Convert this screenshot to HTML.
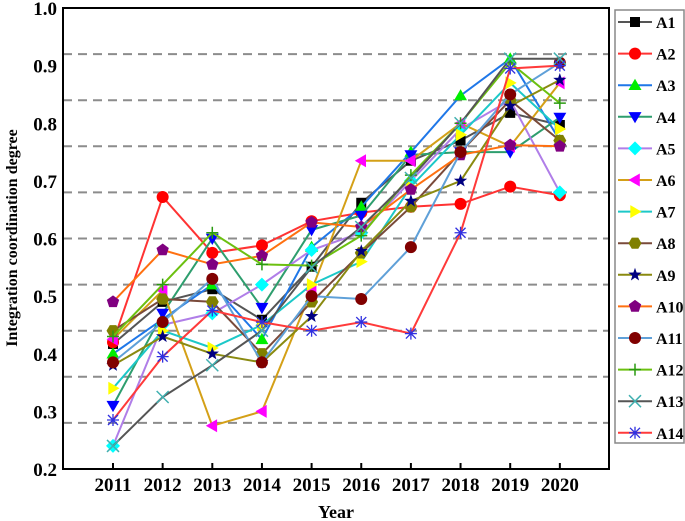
<!DOCTYPE html>
<html><head><meta charset="utf-8"><style>
body{margin:0;background:#fff;}
svg{display:block;font-family:"Liberation Serif",serif;font-weight:bold;}
</style></head><body>
<svg id="chart" width="685" height="521" viewBox="0 0 685 521" xmlns="http://www.w3.org/2000/svg"></svg>
<script>
const years = ["2011","2012","2013","2014","2015","2016","2017","2018","2019","2020"];
const yTicks = [0.2,0.3,0.4,0.5,0.6,0.7,0.8,0.9,1.0];
const gridVals = [0.28,0.36,0.44,0.52,0.60,0.68,0.76,0.84,0.92];
const seriesNames = ["A1","A2","A3","A4","A5","A6","A7","A8","A9","A10","A11","A12","A13","A14"];
const a1 = [0.417,0.49,0.512,0.459,0.551,0.662,0.735,0.77,0.818,0.797];
const a2 = [0.42,0.672,0.575,0.588,0.63,0.645,0.655,0.66,0.69,0.675];
const a3 = [0.40,0.46,0.52,0.425,0.585,0.655,0.75,0.848,0.912,0.77];
const a4 = [0.31,0.47,0.60,0.48,0.615,0.64,0.745,0.75,0.75,0.81];
const a5 = [0.24,0.45,0.47,0.52,0.58,0.61,0.70,0.79,0.84,0.68];
const a6 = [0.425,0.51,0.275,0.30,0.51,0.735,0.735,0.80,0.76,0.87];
const a7 = [0.34,0.44,0.41,0.45,0.52,0.56,0.69,0.78,0.87,0.79];
const a8 = [0.44,0.495,0.49,0.40,0.49,0.575,0.655,0.75,0.84,0.77];
const a9 = [0.38,0.43,0.40,0.385,0.465,0.578,0.665,0.70,0.83,0.875];
const a10 = [0.49,0.58,0.555,0.57,0.628,0.62,0.685,0.745,0.762,0.76];
const a11 = [0.385,0.455,0.53,0.385,0.50,0.495,0.585,0.75,0.85,0.905];
const a12 = [0.43,0.52,0.61,0.555,0.553,0.605,0.71,0.80,0.905,0.835];
const a13 = [0.24,0.325,0.38,0.44,0.55,0.62,0.705,0.80,0.912,0.912];
const a14 = [0.285,0.395,0.475,0.455,0.44,0.455,0.435,0.61,0.895,0.90];
const allSeries = [a1,a2,a3,a4,a5,a6,a7,a8,a9,a10,a11,a12,a13,a14];
const lineColors = ["#555555","#ff3333","#1f77e8","#2e9e6e","#b07ee8","#d4a017","#1cc8c8","#7a4a3a","#8a8a10","#ff7010","#5fa0d8","#6cc010","#555555","#ff3a3a"];
const markColors = ["#000000","#ff0000","#00ee00","#0000ff","#00ffff","#ff00ff","#ffff00","#808000","#000080","#800080","#800000","#2a9a10","#40b0b0","#3030e0"];
const shapes = ["square","circle","up","down","diamond","left","right","hex","star","pent","ball","plus","cross","aster"];

const svg = document.getElementById('chart');
const NS = "http://www.w3.org/2000/svg";
const L=63, R=609, T=8, B=469;
function xs(i){return 113 + i*49.65;}
function ys(v){return B - (v-0.2)*(B-T)/0.8;}
function el(tag, attrs, parent){const e=document.createElementNS(NS,tag);for(const k in attrs)e.setAttribute(k,attrs[k]);(parent||svg).appendChild(e);return e;}

gridVals.forEach(g=>{
  const ln = el('line',{x1:L,x2:R,y1:ys(g),y2:ys(g),stroke:'#8c8c8c','stroke-width':2,'stroke-dasharray':'9,6'});
  
  
});
const frame = el('rect',{x:L,y:T,width:R-L,height:B-T,fill:'none',stroke:'#000','stroke-width':2});


yTicks.forEach(t=>{
  const tx = el('text',{x:57,y:ys(t)+7,'text-anchor':'end','font-size':19});
  tx.textContent = t.toFixed(1);
  
  
});
years.forEach((yr,i)=>{
  el('line',{x1:xs(i),x2:xs(i),y1:B,y2:B-6,stroke:'#000','stroke-width':2});
  const tx = el('text',{x:xs(i),y:491,'text-anchor':'middle','font-size':19});
  tx.textContent = yr;
  
  
});
const xt = el('text',{x:336,y:518,'text-anchor':'middle','font-size':18});
xt.textContent='Year';


const yt = el('text',{x:0,y:0,'text-anchor':'middle','font-size':16,transform:'translate(17,238) rotate(-90)'});
yt.textContent='Integration coordination degree';



function poly(cx,cy,n,r,rot){let p=[];for(let k=0;k<n;k++){const a=rot+k*2*Math.PI/n;p.push((cx+r*Math.cos(a)).toFixed(1)+','+(cy+r*Math.sin(a)).toFixed(1));}return p.join(' ');}
function marker(shape,cx,cy,c,g){
  const s=6;
  switch(shape){
    case 'square': return el('rect',{x:cx-5,y:cy-5,width:10,height:10,fill:c},g);
    case 'circle': return el('circle',{cx,cy,r:6,fill:c},g);
    case 'ball': return el('circle',{cx,cy,r:6,fill:c},g);
    case 'up': return el('polygon',{points:poly(cx,cy+1,3,7.5,-Math.PI/2),fill:c},g);
    case 'down': return el('polygon',{points:poly(cx,cy-1,3,7.5,Math.PI/2),fill:c},g);
    case 'left': return el('polygon',{points:poly(cx+1,cy,3,7.5,Math.PI),fill:c},g);
    case 'right': return el('polygon',{points:poly(cx-1,cy,3,7.5,0),fill:c},g);
    case 'diamond': return el('polygon',{points:poly(cx,cy,4,7,0),fill:c},g);
    case 'hex': return el('polygon',{points:poly(cx,cy,6,6.5,0),fill:c},g);
    case 'pent': return el('polygon',{points:poly(cx,cy,5,6.5,-Math.PI/2),fill:c},g);
    case 'star': {let p=[];for(let k=0;k<10;k++){const r=k%2?2.8:7,a=-Math.PI/2+k*Math.PI/5;p.push((cx+r*Math.cos(a)).toFixed(1)+','+(cy+r*Math.sin(a)).toFixed(1));}return el('polygon',{points:p.join(' '),fill:c},g);}
    case 'plus': return el('path',{d:`M${cx-s} ${cy}H${cx+s}M${cx} ${cy-s}V${cy+s}`,stroke:c,'stroke-width':1.5},g);
    case 'cross': return el('path',{d:`M${cx-s} ${cy-s}L${cx+s} ${cy+s}M${cx-s} ${cy+s}L${cx+s} ${cy-s}`,stroke:c,'stroke-width':1.5},g);
    case 'aster': return el('path',{d:`M${cx-s} ${cy}H${cx+s}M${cx} ${cy-s}V${cy+s}M${cx-5} ${cy-5}L${cx+5} ${cy+5}M${cx-5} ${cy+5}L${cx+5} ${cy-5}`,stroke:c,'stroke-width':1.3},g);
  }
}
allSeries.forEach((vals,si)=>{
  const g = el('g',{});
  
  
  const pts = vals.map((v,i)=>xs(i).toFixed(1)+','+ys(v).toFixed(1)).join(' ');
  const pl = el('polyline',{points:pts,fill:'none',stroke:lineColors[si],'stroke-width':2},g);
  
  
  vals.forEach((v,i)=>{
    const m = marker(shapes[si],xs(i),ys(v),markColors[si],g);
    
    
  });
});
const lg = el('g',{});


el('rect',{x:615,y:10,width:69,height:433,fill:'#fff',stroke:'#888','stroke-width':1.5},lg);
seriesNames.forEach((n,si)=>{
  const y = 22 + si*31.6;
  const eg = el('g',{},lg);
  
  
  el('line',{x1:618,x2:652,y1:y,y2:y,stroke:lineColors[si],'stroke-width':2},eg);
  marker(shapes[si],635,y,markColors[si],eg);
  const t = el('text',{x:656,y:y+6,'font-size':16},eg);
  t.textContent = n;
});
</script>
</body></html>
